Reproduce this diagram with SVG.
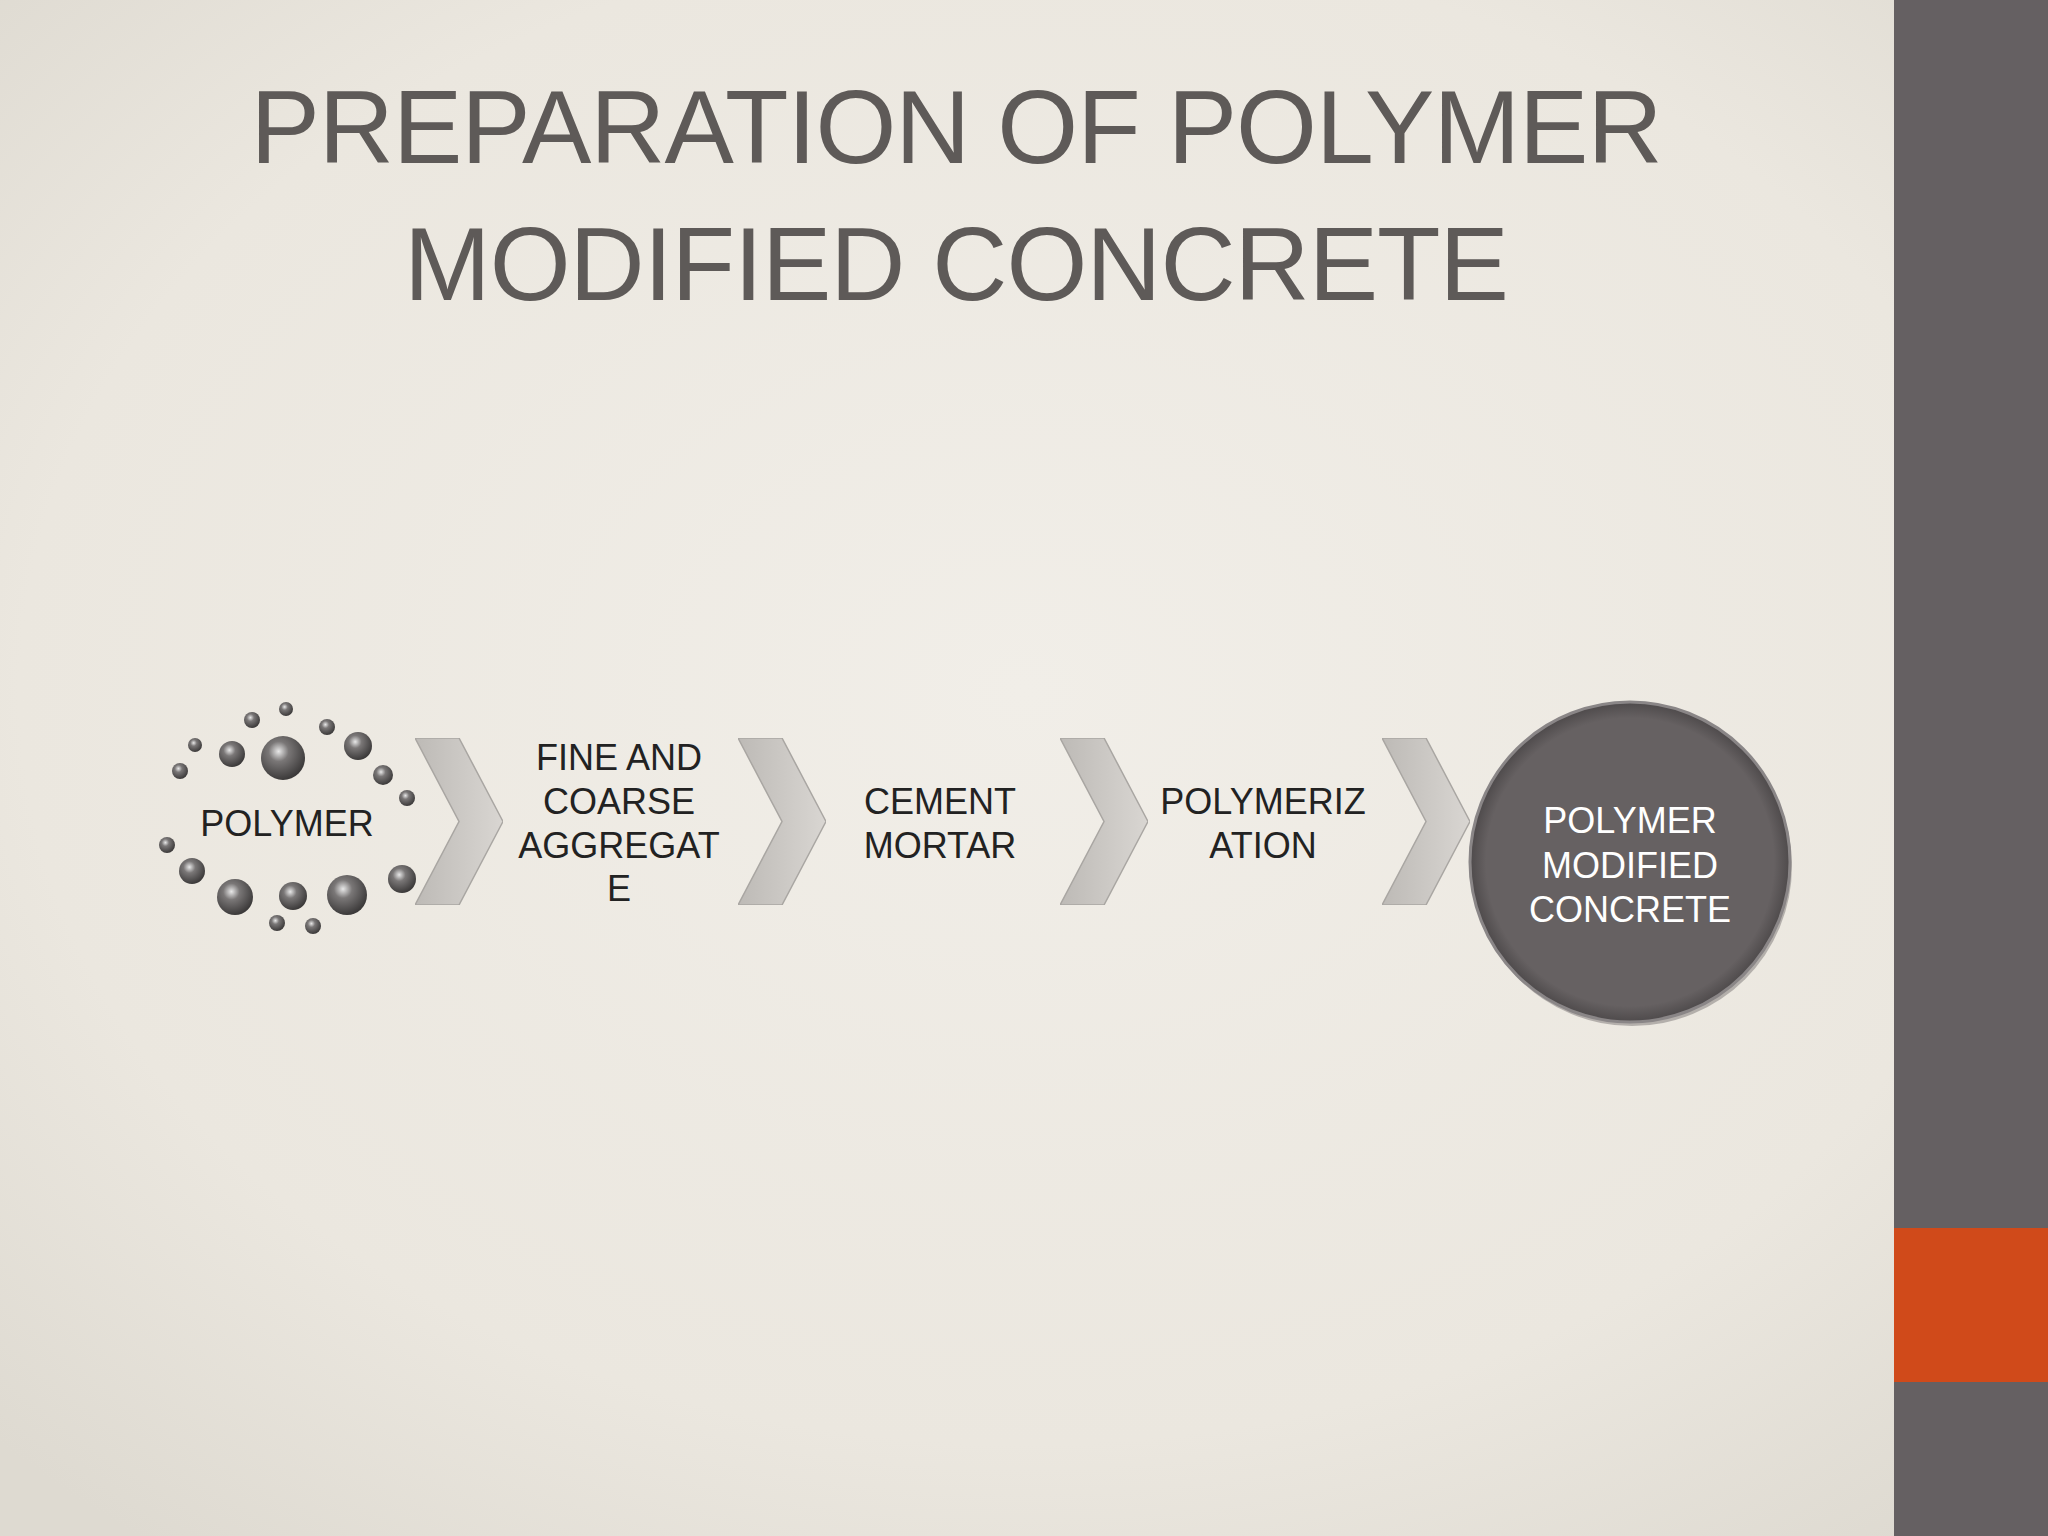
<svg xmlns="http://www.w3.org/2000/svg" width="2048" height="1536" viewBox="0 0 2048 1536">
<defs>
<radialGradient id="bg" cx="0.5" cy="0.45" r="0.7"><stop offset="0" stop-color="#f1eee8"/><stop offset="0.7" stop-color="#ebe7df"/><stop offset="1" stop-color="#dedad1"/></radialGradient>
<radialGradient id="dot" cx="0.4" cy="0.35" r="0.65"><stop offset="0" stop-color="#e8e8e8"/><stop offset="0.35" stop-color="#7a7777"/><stop offset="1" stop-color="#3c3a3a"/></radialGradient>
<radialGradient id="big" cx="0.5" cy="0.5" r="0.5"><stop offset="0.9" stop-color="#666162"/><stop offset="1" stop-color="#4e4a4b"/></radialGradient>
<linearGradient id="chev" x1="0" y1="0" x2="1" y2="0"><stop offset="0" stop-color="#bdbab6"/><stop offset="1" stop-color="#d9d6d2"/></linearGradient>
<symbol id="chv" viewBox="0 0 88 167"><path d="M0 0 H44 L88 83.5 L44 167 H0 L44 83.5 Z" fill="url(#chev)" stroke="#a9a6a2" stroke-width="1.5"/></symbol>
<style>
.t{font-family:"Liberation Sans",Arial,sans-serif;fill:#222;font-size:36px;text-anchor:middle}
.h{font-family:"Liberation Sans",Arial,sans-serif;fill:#5e5a58;font-size:104px;text-anchor:middle;letter-spacing:-1px}
</style>
</defs>
<rect width="2048" height="1536" fill="url(#bg)"/>
<rect x="1894" y="0" width="154" height="1536" fill="#656062"/>
<rect x="1894" y="1228" width="154" height="154" fill="#d04a1a"/>
<g id="title"><text class="h" x="956" y="163">PREPARATION OF POLYMER</text><text class="h" x="956" y="300">MODIFIED CONCRETE</text></g>
<g id="connectors">
<use href="#chv" x="415" y="738" width="88" height="167"/>
<use href="#chv" x="738" y="738" width="88" height="167"/>
<use href="#chv" x="1060" y="738" width="88" height="167"/>
<use href="#chv" x="1382" y="738" width="88" height="167"/>
</g>
<g id="polymer">
<g fill="url(#dot)">
<circle cx="286" cy="709" r="7"/><circle cx="252" cy="720" r="8"/><circle cx="327" cy="727" r="8"/><circle cx="195" cy="745" r="7"/><circle cx="232" cy="754" r="13"/><circle cx="283" cy="758" r="22"/><circle cx="358" cy="746" r="14"/><circle cx="180" cy="771" r="8"/><circle cx="383" cy="775" r="10"/><circle cx="407" cy="798" r="8"/><circle cx="167" cy="845" r="8"/><circle cx="192" cy="871" r="13"/><circle cx="402" cy="879" r="14"/><circle cx="235" cy="897" r="18"/><circle cx="293" cy="896" r="14"/><circle cx="347" cy="895" r="20"/><circle cx="277" cy="923" r="8"/><circle cx="313" cy="926" r="8"/>
</g>
<text class="t" x="287" y="836">POLYMER</text>
</g>
<g id="aggregate"><text class="t" x="619" y="770">FINE AND</text><text class="t" x="619" y="814">COARSE</text><text class="t" x="619" y="858">AGGREGAT</text><text class="t" x="619" y="901">E</text></g>
<g id="mortar"><text class="t" x="940" y="814">CEMENT</text><text class="t" x="940" y="858">MORTAR</text></g>
<g id="polymerization"><text class="t" x="1263" y="814">POLYMERIZ</text><text class="t" x="1263" y="858">ATION</text></g>
<g id="result">
<circle cx="1632" cy="866" r="160" fill="#4a4647" opacity="0.35"/>
<circle cx="1630" cy="862" r="160" fill="url(#big)" stroke="#8a8687" stroke-width="3"/>
<text class="t" x="1630" y="833" style="fill:#fff">POLYMER</text>
<text class="t" x="1630" y="878" style="fill:#fff">MODIFIED</text>
<text class="t" x="1630" y="922" style="fill:#fff">CONCRETE</text>
</g>
</svg>
